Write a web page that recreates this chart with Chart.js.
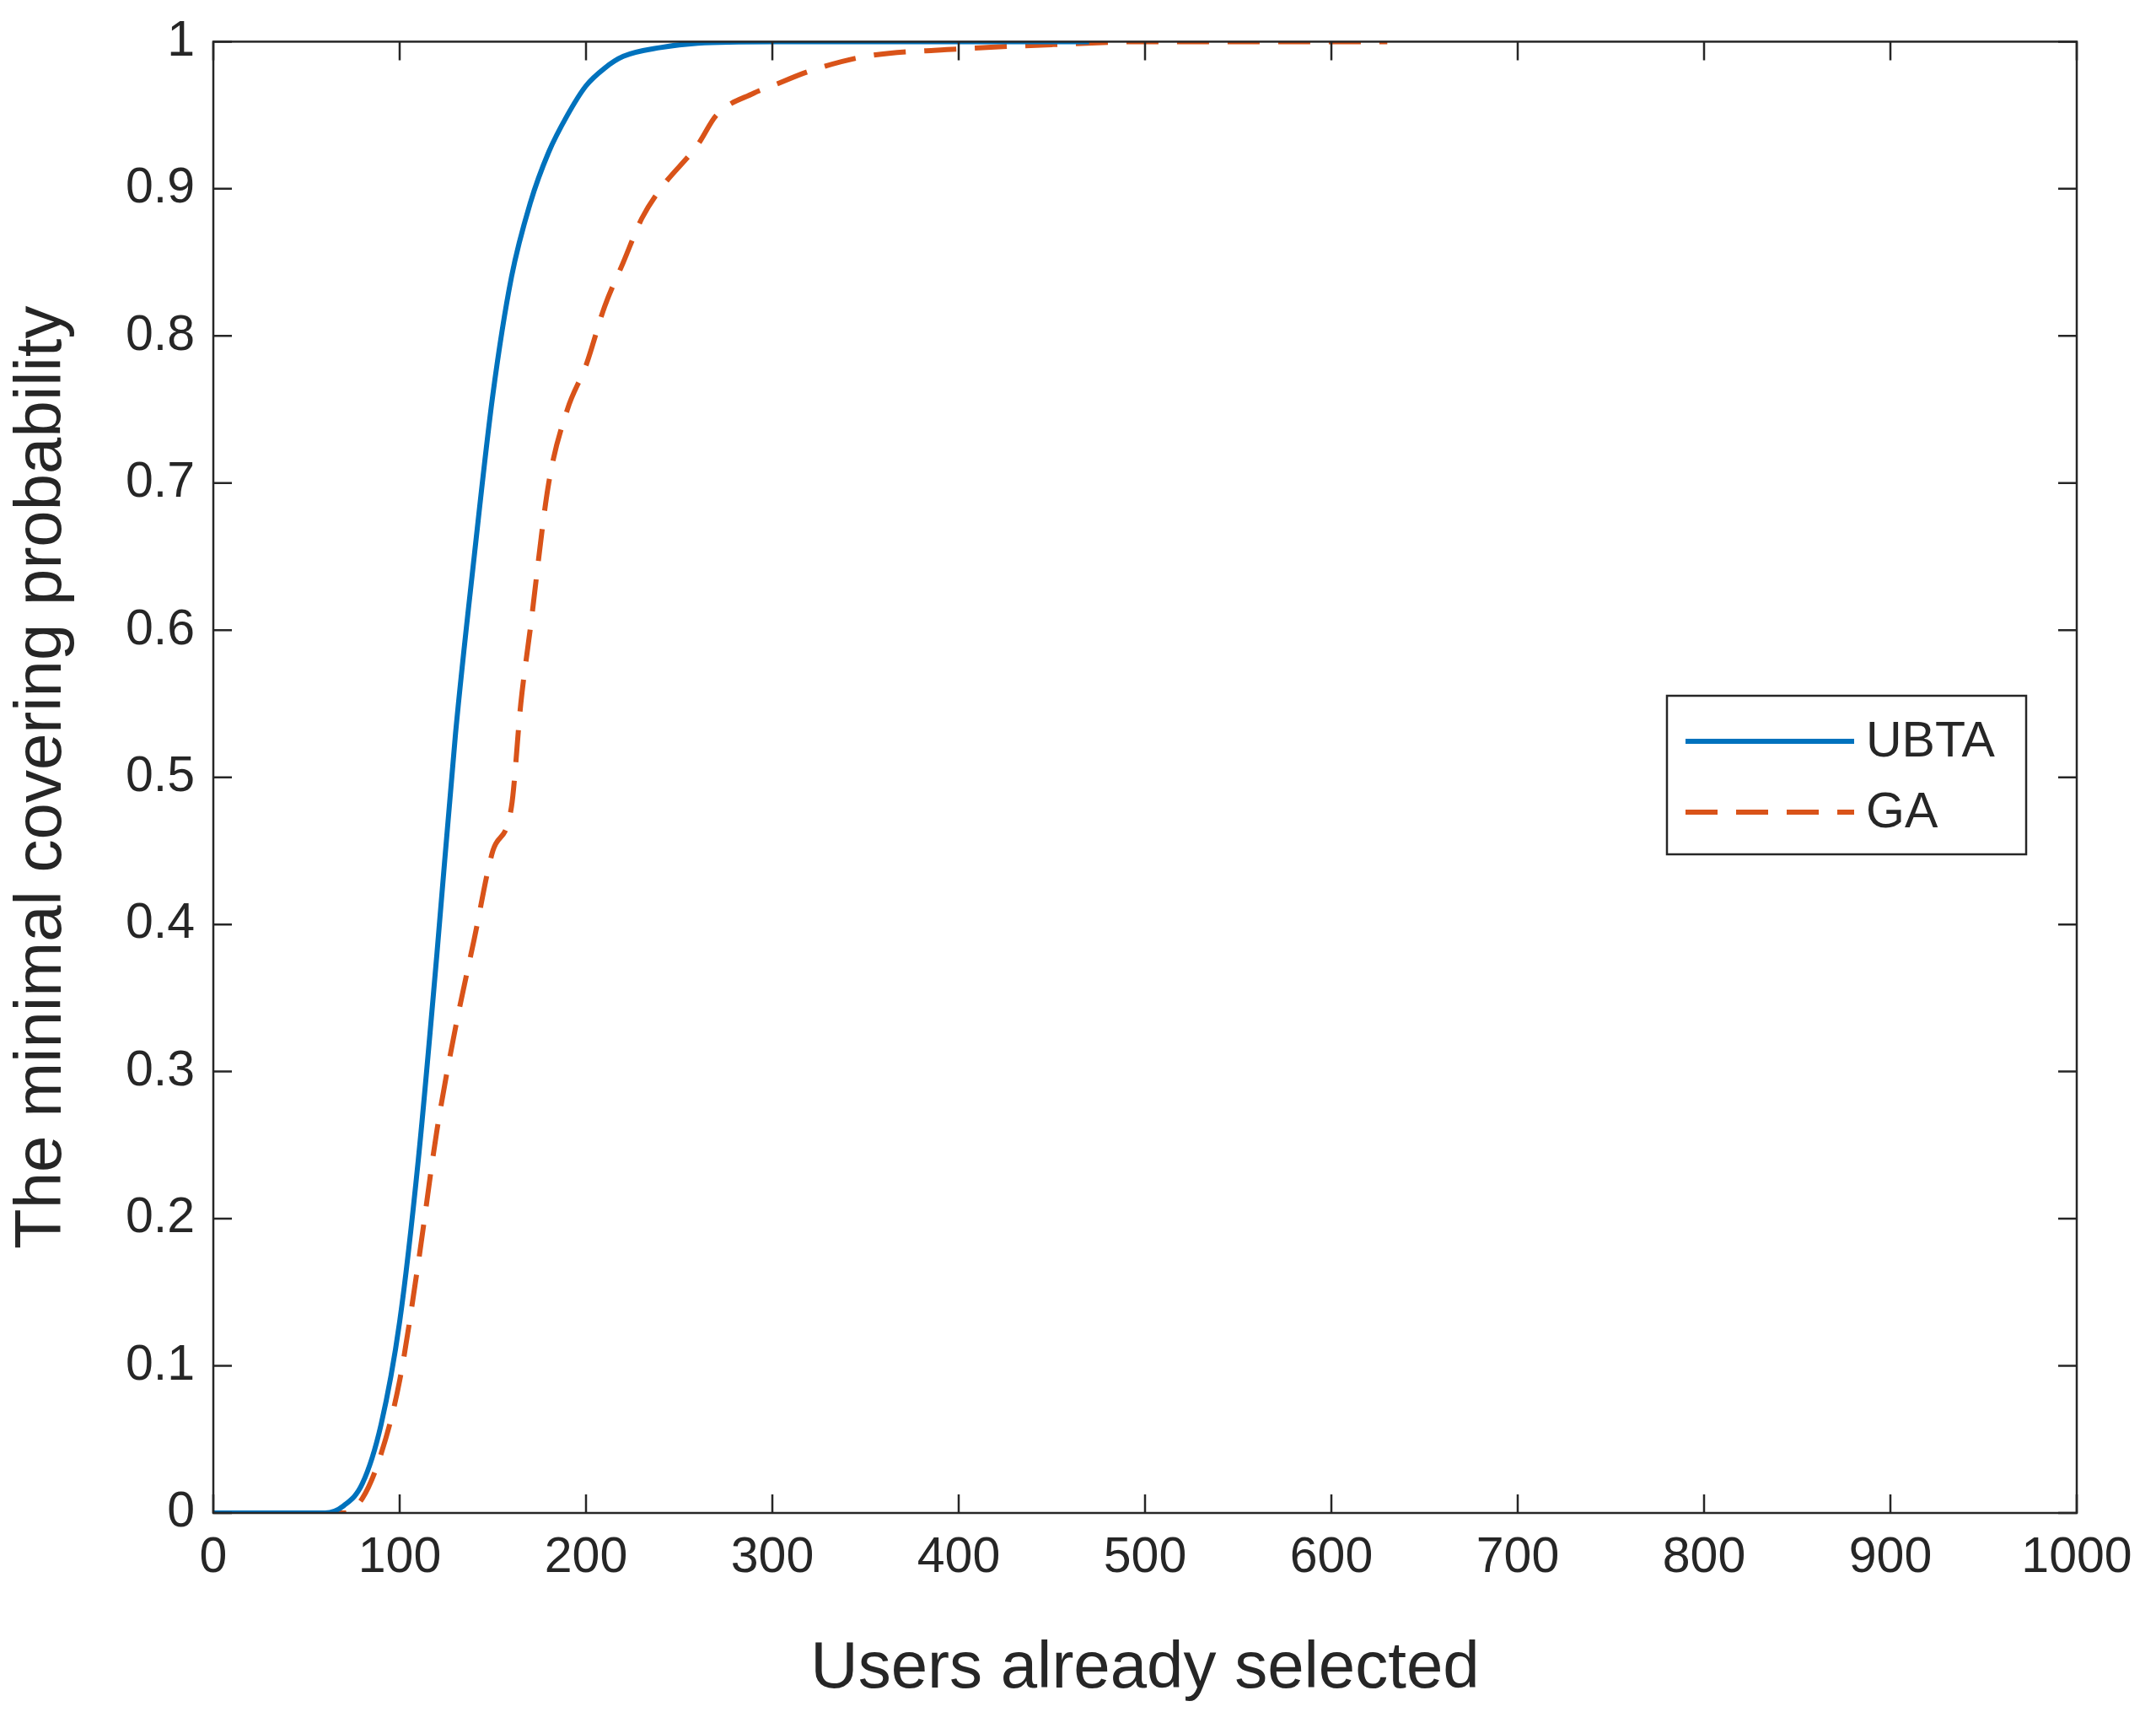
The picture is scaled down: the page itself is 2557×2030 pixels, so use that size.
<!DOCTYPE html>
<html><head><meta charset="utf-8">
<script src="https://cdn.jsdelivr.net/npm/chart.js@4"></script>
<style>body{margin:0;background:#fff}canvas{display:block}</style>
</head><body>
<canvas id="c" width="2557" height="2030"></canvas>
<script>
const ubtaX = [0, 60, 70, 80, 90, 100, 110, 120, 130, 140, 150, 160, 170, 180, 190, 200, 210, 220, 240, 260, 300, 470];
const ubtaY = [0, 0, 0.005, 0.02, 0.06, 0.13, 0.24, 0.38, 0.53, 0.65, 0.76, 0.84, 0.89, 0.925, 0.95, 0.97, 0.982, 0.99, 0.996, 0.999, 1, 1];
const gaX = [0, 70, 80, 90, 100, 110, 120, 130, 140, 150, 160, 165, 170, 180, 190, 200, 210, 220, 230, 240, 260, 270, 290, 300, 320, 350, 400, 450, 500, 630];
const gaY = [0, 0, 0.01, 0.04, 0.09, 0.17, 0.26, 0.33, 0.39, 0.45, 0.48, 0.55, 0.6, 0.7, 0.75, 0.78, 0.82, 0.85, 0.88, 0.9, 0.93, 0.95, 0.965, 0.97, 0.98, 0.99, 0.995, 0.998, 1, 1];
const seriesNames = ['UBTA', 'GA'];
const seriesColors = ['#0072BD', '#D95319'];

const font = 'Liberation Sans, Arial, sans-serif';
const txt = '#262626';

// MATLAB style box with inward ticks on all sides, plus legend box
const boxPlugin = {
    id: 'box',
    afterDraw(chart) {
        const ctx = chart.ctx, a = chart.chartArea;
        const sx = chart.scales.x, sy = chart.scales.y;
        const t = 22;
        ctx.save();
        ctx.strokeStyle = txt;
        ctx.lineWidth = 2.5;
        ctx.strokeRect(a.left, a.top, a.right - a.left, a.bottom - a.top);
        ctx.beginPath();
        sx.ticks.forEach(tk => {
            const p = sx.getPixelForValue(tk.value);
            ctx.moveTo(p, a.bottom); ctx.lineTo(p, a.bottom - t);
            ctx.moveTo(p, a.top); ctx.lineTo(p, a.top + t);
        });
        sy.ticks.forEach(tk => {
            const p = sy.getPixelForValue(tk.value);
            ctx.moveTo(a.left, p); ctx.lineTo(a.left + t, p);
            ctx.moveTo(a.right, p); ctx.lineTo(a.right - t, p);
        });
        ctx.stroke();

        // legend
        const lx = 1977, ly = 825, lw = 426, lh = 188;
        ctx.fillStyle = '#fff';
        ctx.fillRect(lx, ly, lw, lh);
        ctx.lineWidth = 2.5;
        ctx.strokeStyle = txt;
        ctx.strokeRect(lx, ly, lw, lh);
        ctx.font = '59px ' + font;
        ctx.textBaseline = 'middle';
        chart.data.datasets.forEach((ds, i) => {
            const yy = ly + 54 + i * 84;
            ctx.beginPath();
            ctx.strokeStyle = ds.borderColor;
            ctx.lineWidth = 6;
            ctx.setLineDash(ds.borderDash || []);
            ctx.moveTo(lx + 22, yy); ctx.lineTo(lx + 222, yy);
            ctx.stroke();
            ctx.setLineDash([]);
            ctx.fillStyle = txt;
            ctx.fillText(ds.label, lx + 236, yy + 2);
        });
        ctx.restore();
    }
};

function pts(xs, ys) { return xs.map((x, i) => ({x: x, y: ys[i]})); }

new Chart(document.getElementById('c'), {
    type: 'line',
    data: {
        datasets: [
            {label: seriesNames[0], data: pts(ubtaX, ubtaY), borderColor: seriesColors[0], borderWidth: 6, pointRadius: 0, cubicInterpolationMode: 'monotone'},
            {label: seriesNames[1], data: pts(gaX, gaY), borderColor: seriesColors[1], borderWidth: 6, borderDash: [38, 22], pointRadius: 0, cubicInterpolationMode: 'monotone'}
        ]
    },
    options: {
        responsive: false,
        animation: false,
        layout: {padding: {top: 46, right: 94, left: 0, bottom: 0}},
        plugins: {legend: {display: false}, tooltip: {enabled: false}},
        scales: {
            x: {
                type: 'linear', min: 0, max: 1000,
                ticks: {stepSize: 100, color: txt, font: {size: 59, family: font}, padding: 10, maxRotation: 0,
                        callback: v => String(v)},
                grid: {display: false},
                border: {display: false},
                title: {display: true, text: 'Users already selected', color: txt, font: {size: 78, family: font}, padding: {top: 4}},
                afterFit(s) { s.height = 236; }
            },
            y: {
                min: 0, max: 1,
                ticks: {stepSize: 0.1, color: txt, font: {size: 59, family: font}, padding: 14,
                        callback: v => String(Math.round(v * 10) / 10)},
                grid: {display: false},
                border: {display: false},
                title: {display: true, text: 'The minimal covering probability', color: txt, font: {size: 78, family: font}, padding: {bottom: 4}},
                afterFit(s) { s.width = 253; }
            }
        }
    },
    plugins: [boxPlugin]
});
</script>
</body></html>
